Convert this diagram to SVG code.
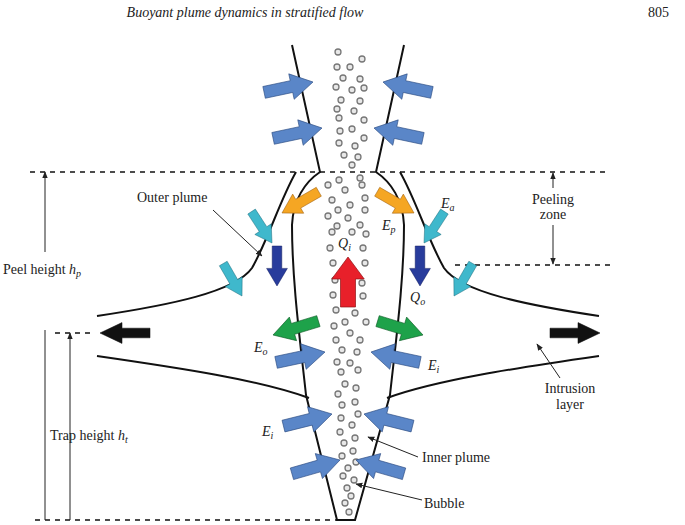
<svg xmlns="http://www.w3.org/2000/svg" xmlns:xlink="http://www.w3.org/1999/xlink" width="685" height="525" viewBox="0 0 685 525">
<style>
.t{font-family:"Liberation Serif",serif;font-size:14px;fill:#222}
.i{font-style:italic}
.ln{fill:none;stroke:#111;stroke-width:2}
.d{fill:none;stroke:#111;stroke-width:1.6;stroke-dasharray:5,5}
.p{fill:none;stroke:#222;stroke-width:1}
.b{fill:#e8e8e8;stroke:#777;stroke-width:1.3}
</style>
<defs>
<marker id="ah" viewBox="0 0 10 10" refX="9" refY="5" markerWidth="7" markerHeight="7" orient="auto"><path d="M0,1 L10,5 L0,9 Z" fill="#222"/></marker>
<path id="blk" d="M-50,-6 L-22,-6 L-22,-13 L0,0 L-22,13 L-22,6 L-50,6 Z"/>
</defs>
<text class="t i" x="245" y="17" text-anchor="middle" font-size="16">Buoyant plume dynamics in stratified flow</text>
<text class="t" x="648" y="17" font-size="16">805</text>
<g id="levels">
<path class="d" d="M30,172 H610"/>
<path class="d" d="M455,265 H610"/>
<path class="d" d="M55,333 H95"/>
<path class="d" d="M35,520 H340"/>
</g>
<g id="plume">
<path class="ln" d="M292,45 L320,172 C305,182 293,200 292,225 C292,280 300,340 306,395 L337,520 L355,520 L390,395 C396,340 404,280 404,225 C403,200 391,182 376,172 L404,45"/>
<path class="ln" d="M296,172 C280,200 268,240 252,268 C235,292 170,305 97,316"/>
<path class="ln" d="M400,172 C416,200 428,240 444,268 C461,292 526,305 599,316"/>
<path class="ln" d="M97,356 C180,368 260,380 309,398"/>
<path class="ln" d="M599,356 C516,368 436,380 387,398"/>
</g>
<g id="bubbles">
<circle class="b" cx="338" cy="52" r="3"/><circle class="b" cx="362" cy="59" r="3"/><circle class="b" cx="337" cy="67" r="3"/><circle class="b" cx="350" cy="67" r="3"/><circle class="b" cx="343" cy="78" r="3"/><circle class="b" cx="360" cy="79" r="3"/><circle class="b" cx="336" cy="87" r="3"/><circle class="b" cx="352" cy="90" r="3"/><circle class="b" cx="364" cy="88" r="3"/><circle class="b" cx="341" cy="100" r="3"/><circle class="b" cx="360" cy="101" r="3"/><circle class="b" cx="337" cy="109" r="3"/><circle class="b" cx="354" cy="111" r="3"/><circle class="b" cx="339" cy="118" r="3"/><circle class="b" cx="364" cy="120" r="3"/><circle class="b" cx="340" cy="131" r="3"/><circle class="b" cx="352" cy="129" r="3"/><circle class="b" cx="339" cy="143" r="3"/><circle class="b" cx="355" cy="146" r="3"/><circle class="b" cx="364" cy="138" r="3"/><circle class="b" cx="344" cy="155" r="3"/><circle class="b" cx="358" cy="157" r="3"/><circle class="b" cx="352" cy="165" r="3"/>
<circle class="b" cx="339" cy="180" r="3"/><circle class="b" cx="360" cy="178" r="3"/><circle class="b" cx="328" cy="185" r="3"/><circle class="b" cx="345" cy="190" r="3"/><circle class="b" cx="362" cy="185" r="3"/><circle class="b" cx="365" cy="198" r="3"/><circle class="b" cx="332" cy="200" r="3"/><circle class="b" cx="350" cy="205" r="3"/><circle class="b" cx="338" cy="210" r="3"/><circle class="b" cx="365" cy="210" r="3"/><circle class="b" cx="328" cy="216" r="3"/><circle class="b" cx="348" cy="218" r="3"/><circle class="b" cx="337" cy="226" r="3"/><circle class="b" cx="360" cy="225" r="3"/><circle class="b" cx="332" cy="232" r="3"/><circle class="b" cx="352" cy="232" r="3"/><circle class="b" cx="366" cy="234" r="3"/><circle class="b" cx="330" cy="248" r="3"/><circle class="b" cx="363" cy="248" r="3"/><circle class="b" cx="333" cy="263" r="3"/><circle class="b" cx="365" cy="263" r="3"/><circle class="b" cx="335" cy="280" r="3"/><circle class="b" cx="362" cy="283" r="3"/><circle class="b" cx="333" cy="295" r="3"/><circle class="b" cx="363" cy="296" r="3"/><circle class="b" cx="336" cy="310" r="3"/><circle class="b" cx="355" cy="313" r="3"/><circle class="b" cx="345" cy="322" r="3"/><circle class="b" cx="366" cy="322" r="3"/><circle class="b" cx="334" cy="326" r="3"/><circle class="b" cx="350" cy="333" r="3"/><circle class="b" cx="336" cy="340" r="3"/><circle class="b" cx="360" cy="340" r="3"/><circle class="b" cx="342" cy="350" r="3"/><circle class="b" cx="357" cy="352" r="3"/><circle class="b" cx="337" cy="362" r="3"/><circle class="b" cx="350" cy="363" r="3"/><circle class="b" cx="358" cy="370" r="3"/><circle class="b" cx="341" cy="372" r="3"/><circle class="b" cx="345" cy="384" r="3"/><circle class="b" cx="356" cy="388" r="3"/><circle class="b" cx="338" cy="394" r="3"/><circle class="b" cx="355" cy="402" r="3"/><circle class="b" cx="342" cy="405" r="3"/><circle class="b" cx="358" cy="414" r="3"/><circle class="b" cx="341" cy="418" r="3"/><circle class="b" cx="352" cy="425" r="3"/><circle class="b" cx="340" cy="432" r="3"/><circle class="b" cx="355" cy="438" r="3"/><circle class="b" cx="344" cy="443" r="3"/><circle class="b" cx="353" cy="451" r="3"/><circle class="b" cx="342" cy="456" r="3"/><circle class="b" cx="356" cy="462" r="3"/><circle class="b" cx="348" cy="468" r="3"/><circle class="b" cx="343" cy="476" r="3"/><circle class="b" cx="354" cy="480" r="3"/><circle class="b" cx="347" cy="488" r="3"/><circle class="b" cx="351" cy="496" r="3"/><circle class="b" cx="345" cy="503" r="3"/><circle class="b" cx="349" cy="512" r="3"/>
</g>
<g id="arrows" stroke="#2a4a80" stroke-width="0.6">
<g fill="#5a86c8">
<use xlink:href="#blk" transform="translate(313,82) rotate(-12)"/>
<use xlink:href="#blk" transform="translate(322,128) rotate(-12)"/>
<use xlink:href="#blk" transform="translate(383,82) rotate(192)"/>
<use xlink:href="#blk" transform="translate(374,128) rotate(192)"/>
<use xlink:href="#blk" transform="translate(325,352) rotate(-12)"/>
<use xlink:href="#blk" transform="translate(332,414) rotate(-14)"/>
<use xlink:href="#blk" transform="translate(340,460) rotate(-16)"/>
<use xlink:href="#blk" transform="translate(371,352) rotate(192)"/>
<use xlink:href="#blk" transform="translate(364,414) rotate(194)"/>
<use xlink:href="#blk" transform="translate(356,460) rotate(196)"/>
</g>
<g fill="#f5a623" stroke="#a06010">
<use xlink:href="#blk" transform="translate(282,213) rotate(150) scale(0.85)"/>
<use xlink:href="#blk" transform="translate(414,213) rotate(30) scale(0.85)"/>
</g>
<g fill="#3fb8cc" stroke="#1a6a7a">
<use xlink:href="#blk" transform="translate(272,243) rotate(57) scale(0.75)"/>
<use xlink:href="#blk" transform="translate(242,296) rotate(60) scale(0.75)"/>
<use xlink:href="#blk" transform="translate(424,243) rotate(123) scale(0.75)"/>
<use xlink:href="#blk" transform="translate(454,296) rotate(120) scale(0.75)"/>
</g>
<g fill="#283c9c" stroke="#101c5c">
<use xlink:href="#blk" transform="translate(277,286) rotate(90) scale(0.8)"/>
<use xlink:href="#blk" transform="translate(420,286) rotate(90) scale(0.8)"/>
</g>
<g fill="#e8202a" stroke="#8a1010">
<use xlink:href="#blk" transform="translate(348,257) rotate(-90) scale(1,1.25)"/>
</g>
<g fill="#1ea24a" stroke="#0c5a24">
<use xlink:href="#blk" transform="translate(273,335) rotate(163) scale(0.95)"/>
<use xlink:href="#blk" transform="translate(423,335) rotate(17) scale(0.95)"/>
</g>
<g fill="#111" stroke="#111">
<use xlink:href="#blk" transform="translate(100,333) rotate(180) scale(1,0.8)"/>
<use xlink:href="#blk" transform="translate(600,333) scale(1,0.8)"/>
</g>
</g>
<g id="dims">
<path class="p" d="M45,520 V330 M45,252 V172" marker-end="url(#ah)"/>
<path class="p" d="M70,520 V333" marker-end="url(#ah)"/>
<path class="p" d="M553,188 V173" marker-end="url(#ah)"/>
<path class="p" d="M553,225 V264" marker-end="url(#ah)"/>
<path class="p" d="M213,210 L262,256" marker-end="url(#ah)"/>
<path class="p" d="M560,378 L537,344" marker-end="url(#ah)"/>
<path class="p" d="M418,457 L368,437" marker-end="url(#ah)"/>
<path class="p" d="M422,500 L356,484" marker-end="url(#ah)"/>
</g>
<g id="labels">
<text class="t" x="3" y="274">Peel height <tspan class="i">h<tspan font-size="10" dy="3">p</tspan></tspan></text>
<text class="t" x="50" y="440">Trap height <tspan class="i">h<tspan font-size="10" dy="3">t</tspan></tspan></text>
<text class="t" x="137" y="202">Outer plume</text>
<text class="t" x="553" y="204" text-anchor="middle">Peeling</text>
<text class="t" x="553" y="219" text-anchor="middle">zone</text>
<text class="t" x="570" y="393" text-anchor="middle">Intrusion</text>
<text class="t" x="570" y="409" text-anchor="middle">layer</text>
<text class="t" x="422" y="462">Inner plume</text>
<text class="t" x="424" y="508">Bubble</text>
<text class="t i" x="338" y="248">Q<tspan font-size="10" dy="3">i</tspan></text>
<text class="t i" x="410" y="302">Q<tspan font-size="10" dy="3">o</tspan></text>
<text class="t i" x="382" y="230">E<tspan font-size="10" dy="3">p</tspan></text>
<text class="t i" x="441" y="208">E<tspan font-size="10" dy="3">a</tspan></text>
<text class="t i" x="254" y="352">E<tspan font-size="10" dy="3">o</tspan></text>
<text class="t i" x="428" y="370">E<tspan font-size="10" dy="3">i</tspan></text>
<text class="t i" x="262" y="436">E<tspan font-size="10" dy="3">i</tspan></text>
</g>
</svg>
